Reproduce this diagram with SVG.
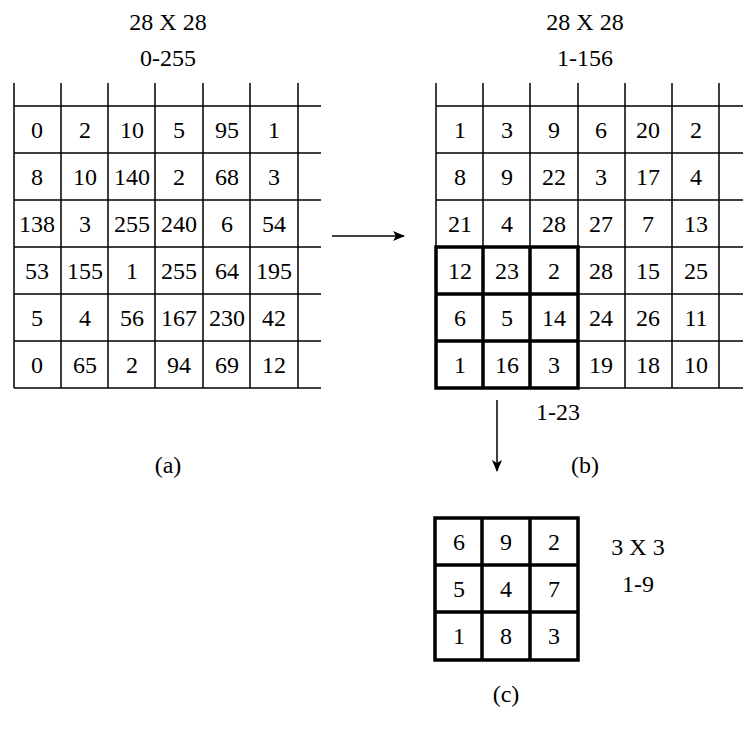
<svg xmlns="http://www.w3.org/2000/svg" width="749" height="748" viewBox="0 0 749 748">
<defs><marker id="ah" markerWidth="12" markerHeight="10" refX="11" refY="5" orient="auto" markerUnits="userSpaceOnUse"><path d="M0,0 L12,5 L0,10 L3,5 Z" fill="#000"/></marker></defs>
<style>text{font-family:"Liberation Serif",serif;font-size:24px;fill:#000;text-anchor:middle}
.g{stroke:#000;stroke-width:1.5;fill:none}.t{stroke:#000;stroke-width:3.5;fill:none}</style>
<rect width="749" height="748" fill="#fff"/>
<g id="gridA">
<text x="168" y="30">28 X 28</text><text x="168" y="66">0-255</text>
<path class="g" d="M14,83V388M61,83V388M108,83V388M155,83V388M203,83V388M250,83V388M298,83V388M14,106H321M14,153H321M14,200H321M14,247H321M14,294H321M14,341H321M14,388H321"/>
<g transform="translate(0,138)">
<text x="37">0</text><text x="85">2</text><text x="132">10</text><text x="179">5</text><text x="227">95</text><text x="274">1</text></g>
<g transform="translate(0,185)"><text x="37">8</text><text x="85">10</text><text x="132">140</text><text x="179">2</text><text x="227">68</text><text x="274">3</text></g>
<g transform="translate(0,232)"><text x="37">138</text><text x="85">3</text><text x="132">255</text><text x="179">240</text><text x="227">6</text><text x="274">54</text></g>
<g transform="translate(0,279)"><text x="37">53</text><text x="85">155</text><text x="132">1</text><text x="179">255</text><text x="227">64</text><text x="274">195</text></g>
<g transform="translate(0,326)"><text x="37">5</text><text x="85">4</text><text x="132">56</text><text x="179">167</text><text x="227">230</text><text x="274">42</text></g>
<g transform="translate(0,373)"><text x="37">0</text><text x="85">65</text><text x="132">2</text><text x="179">94</text><text x="227">69</text><text x="274">12</text></g>
<text x="168" y="473">(a)</text>
</g>
<g id="gridB">
<text x="585" y="30">28 X 28</text><text x="585" y="66">1-156</text>
<path class="g" d="M436,83V247M483,83V247M530,83V247M578,83V388M625,83V388M672,83V388M719,83V388M436,106H743M436,153H743M436,200H743M578,247H743M578,294H743M578,341H743M578,388H743"/>
<path class="t" d="M436,247H578V388H436ZM483,247V388M530,247V388M436,294H578M436,341H578"/>
<g transform="translate(0,138)"><text x="460">1</text><text x="507">3</text><text x="554">9</text><text x="601">6</text><text x="648">20</text><text x="696">2</text></g>
<g transform="translate(0,185)"><text x="460">8</text><text x="507">9</text><text x="554">22</text><text x="601">3</text><text x="648">17</text><text x="696">4</text></g>
<g transform="translate(0,232)"><text x="460">21</text><text x="507">4</text><text x="554">28</text><text x="601">27</text><text x="648">7</text><text x="696">13</text></g>
<g transform="translate(0,279)"><text x="460">12</text><text x="507">23</text><text x="554">2</text><text x="601">28</text><text x="648">15</text><text x="696">25</text></g>
<g transform="translate(0,326)"><text x="460">6</text><text x="507">5</text><text x="554">14</text><text x="601">24</text><text x="648">26</text><text x="696">11</text></g>
<g transform="translate(0,373)"><text x="460">1</text><text x="507">16</text><text x="554">3</text><text x="601">19</text><text x="648">18</text><text x="696">10</text></g>
<text x="558" y="420">1-23</text>
<text x="585" y="473">(b)</text>
</g>
<g id="gridC">
<path class="t" d="M435,518H578V660H435ZM482,518V660M530,518V660M435,565H578M435,612H578"/>
<g transform="translate(0,550)"><text x="459">6</text><text x="506">9</text><text x="554">2</text></g>
<g transform="translate(0,597)"><text x="459">5</text><text x="506">4</text><text x="554">7</text></g>
<g transform="translate(0,644)"><text x="459">1</text><text x="506">8</text><text x="554">3</text></g>
<text x="638" y="555">3 X 3</text><text x="638" y="592">1-9</text>
<text x="506" y="702">(c)</text>
</g>
<g id="connectors" stroke="#000" stroke-width="1.5">
<line x1="332" y1="236" x2="404" y2="236" marker-end="url(#ah)"/>
<line x1="497" y1="400" x2="497" y2="471" marker-end="url(#ah)"/>
</g>
</svg>
